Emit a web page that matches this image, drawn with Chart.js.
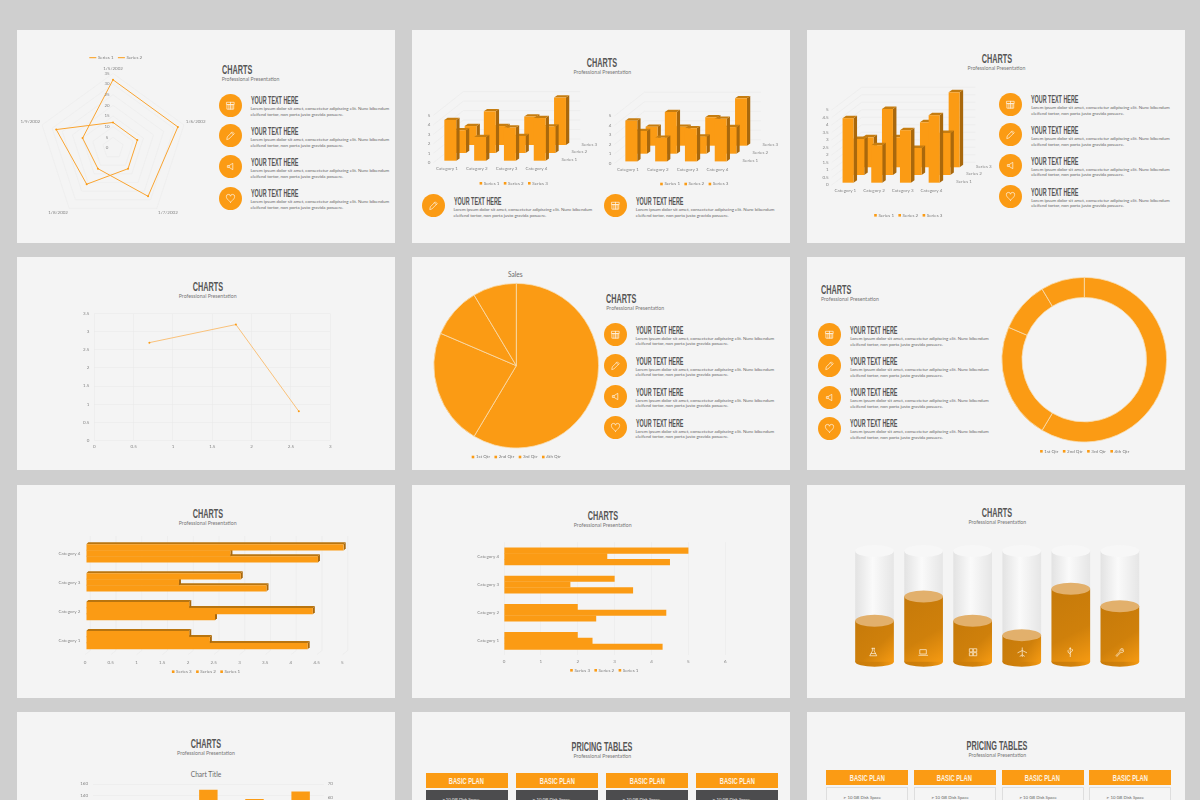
<!DOCTYPE html>
<html>
<head>
    <title>Charts</title>
    <style>
        html, body {
            margin: 0;
            padding: 0;
            width: 1200px;
            height: 800px;
            overflow: hidden;
            background-color: #cfcfcf;
            font-family: Lato, sans-serif;
        }

        .slide {
            position: absolute;
            width: 377.5px;
            height: 212.5px;
            background-color: #f4f4f4;
        }

        .slide canvas {
            position: absolute;
            left: 0;
            top: 0;
        }

        .t {
            position: absolute;
            white-space: nowrap;
            transform: translateY(-50%);
        }

        .t.mid {
            transform: translate(-50%, -50%);
        }

        .head {
            font-family: "Liberation Sans Narrow", sans-serif;
            font-weight: bold;
            color: #565656;
            transform-origin: left center;
        }

        .title { font-size: 13px; transform: translateY(-50%) scaleX(0.56); }
        .title.mid { transform: translate(-50%, -50%) scaleX(0.56); transform-origin: center; }
        .item-head { font-size: 10.2px; transform: translateY(-50%) scaleX(0.53); }
        .sub { font-size: 5.2px; color: #777777; }
        .body { font-size: 4.45px; color: #666666; }
        .plain { font-size: 6.6px; color: #6b6b6b; }

        .dot {
            position: absolute;
            width: 23px;
            height: 23px;
            border-radius: 50%;
            background-color: #fb9b14;
        }

        .icon {
            position: absolute;
            fill: none;
            stroke: #fdf3e2;
            stroke-width: 1.6;
            stroke-linejoin: round;
            stroke-linecap: round;
        }

        .plan-top {
            position: absolute;
            height: 15px;
            background-color: #fb9b14;
            color: #fdf4e4;
            font-family: "Liberation Sans Narrow", sans-serif;
            font-weight: bold;
            font-size: 9.6px;
            line-height: 15px;
            text-align: center;
        }

        .plan-top span { display: inline-block; transform: scaleX(0.6); }

        .plan-dark, .plan-light {
            position: absolute;
            height: 40px;
            font-size: 4.3px;
        }

        .plan-dark { background-color: #4c4c4e; color: #e8e8e8; }
        .plan-light { background-color: #f5f5f5; border: 1px solid #dedede; box-sizing: border-box; color: #666666; }
        .plan-dark span, .plan-light span { position: absolute; white-space: nowrap; }
    </style>
</head>
<body>
    <script src="https://cdn.jsdelivr.net/npm/chart.js"></script>
    <script>
        // chart values
        var categories = ['Category 1', 'Category 2', 'Category 3', 'Category 4'];
        var categoriesDown = ['Category 4', 'Category 3', 'Category 2', 'Category 1'];
        var series1 = [4.3, 2.5, 3.5, 4.5];
        var series2 = [2.4, 4.4, 1.8, 2.8];
        var series3 = [2, 2, 3, 5];
        var series1Down = [4.5, 3.5, 2.5, 4.3];
        var series2Down = [2.8, 1.8, 4.4, 2.4];
        var series3Down = [5, 3, 2, 2];
        var radarDates = ['1/5/2002', '1/6/2002', '1/7/2002', '1/8/2002', '1/9/2002'];
        var radarSeries1 = [32, 32, 28, 12, 15];
        var radarSeries2 = [12, 12, 12, 21, 28];
        var scatterX = [0.7, 1.8, 2.6];
        var scatterY = [2.7, 3.2, 0.8];
        var quarters = ['1st Qtr', '2nd Qtr', '3rd Qtr', '4th Qtr'];
        var sales = [8.2, 3.2, 1.4, 1.2];
        var tubeNames = ['Flask', 'Laptop', 'Grid', 'Plane', 'USB', 'Wrench'];
        var tubeLevels = [37, 59, 37, 24, 66, 50];
        var comboNames = ['A', 'B', 'C', 'D', 'E'];
        var comboBars = [null, null, 150, 134, 147];

        var ORANGE = '#fb9b14';
        var AXIS_GREY = '#868686';
        var GRID_GREY = '#ebebeb';
        var W = 377, H = 213;

        Chart.defaults.font.family = 'Lato, sans-serif';
        Chart.defaults.font.size = 4.5;
        Chart.defaults.color = AXIS_GREY;
        Chart.defaults.animation = false;
        Chart.defaults.responsive = false;
        Chart.defaults.plugins.legend.display = false;
        Chart.defaults.plugins.tooltip.enabled = false;

        var iconPaths = {
            gift: 'M5 10h14v10H5z M4 5h16v5H4z M12 5v15 M8.5 10v10 M15.5 10v10',
            pencil: 'M4 20l1-5L16 4l4 4L9 19z M14 6l4 4',
            speaker: 'M6 10h3l8-5v14l-8-5H6z M9 10v4',
            heart: 'M12 20C5 14 3 11 3 8a4.5 4.5 0 0 1 9-1 4.5 4.5 0 0 1 9 1c0 3-2 6-9 12z',
            flask: 'M9 3h6 M10 3v6L4 20h16L14 9V3 M7 15h10',
            laptop: 'M5 6h14v10H5z M2 19h20',
            grid: 'M4 4h7v7H4z M13 4h7v7h-7z M4 13h7v7H4z M13 13h7v7h-7z',
            plane: 'M12 2v20 M2 13l10-5 10 5 M7 21l5-3 5 3',
            usb: 'M12 2v20 M12 16l-5-4V8 M12 13l5-4V6 M10 5l2-3 2 3',
            wrench: 'M5 19l9-9a4.5 4.5 0 0 1 6-6l-3 3 2 2 3-3a4.5 4.5 0 0 1-6 6l-9 9z'
        };

        function addSlide(x, y) {
            var s = document.createElement('div');
            s.className = 'slide';
            s.style.left = x + 'px';
            s.style.top = y + 'px';
            document.body.appendChild(s);
            return s;
        }

        function addText(slide, str, x, y, cls) {
            var d = document.createElement('div');
            d.className = 't ' + cls;
            d.textContent = str;
            d.style.left = x + 'px';
            d.style.top = y + 'px';
            slide.appendChild(d);
            return d;
        }

        function addHeader(slide, name, x, y, centred) {
            var m = centred ? ' mid' : '';
            addText(slide, name, x, y, 'head title' + m);
            addText(slide, 'Professional Presentation', x, y + 10, 'sub' + m);
        }

        function addIcon(slide, name, cx, cy, size) {
            var svg = document.createElementNS('http://www.w3.org/2000/svg', 'svg');
            svg.setAttribute('class', 'icon');
            svg.setAttribute('viewBox', '0 0 24 24');
            svg.setAttribute('width', size);
            svg.setAttribute('height', size);
            svg.style.left = (cx - size / 2) + 'px';
            svg.style.top = (cy - size / 2) + 'px';
            var p = document.createElementNS('http://www.w3.org/2000/svg', 'path');
            p.setAttribute('d', iconPaths[name]);
            svg.appendChild(p);
            slide.appendChild(svg);
        }

        // round badge with a heading and two lines of copy next to it
        function addItem(slide, icon, cx, cy) {
            var dot = document.createElement('div');
            dot.className = 'dot';
            dot.style.left = (cx - 11.5) + 'px';
            dot.style.top = (cy - 11.5) + 'px';
            slide.appendChild(dot);
            addIcon(slide, icon, cx, cy, 11);
            addText(slide, 'YOUR TEXT HERE', cx + 20.5, cy - 4.6, 'head item-head');
            addText(slide, 'Lorem ipsum dolor sit amet, consectetur adipiscing elit. Nunc bibendum', cx + 20.5, cy + 3.4, 'body');
            addText(slide, 'eleifend tortor, non porta justo gravida posuere.', cx + 20.5, cy + 9, 'body');
        }

        function addList(slide, cx, ys) {
            ['gift', 'pencil', 'speaker', 'heart'].forEach(function (icon, i) {
                addItem(slide, icon, cx, ys[i]);
            });
        }

        // row of small colour keys
        function keyRow(names, cx, y, asLine) {
            return {
                id: 'keyRow',
                afterDraw: function (chart) {
                    var c = chart.ctx;
                    var mark = asLine ? 7 : 2.6;
                    c.save();
                    c.font = '4.5px Lato, sans-serif';
                    c.textBaseline = 'middle';
                    c.textAlign = 'left';
                    var total = 0;
                    names.forEach(function (n) { total += mark + 1.6 + c.measureText(n).width + 4.4; });
                    var x = cx - (total - 4.4) / 2;
                    names.forEach(function (n) {
                        c.fillStyle = ORANGE;
                        if (asLine) {
                            c.fillRect(x, y - 0.5, mark, 1);
                        } else {
                            c.fillRect(x, y - mark / 2, mark, mark);
                        }
                        c.fillStyle = '#7a7a7a';
                        c.fillText(n, x + mark + 1.6, y);
                        x += mark + 1.6 + c.measureText(n).width + 4.4;
                    });
                    c.restore();
                }
            };
        }

        // depth faces and back wall for the stepped columns
        function extrude(cfg) {
            return {
                id: 'extrude',
                beforeDatasetsDraw: function (chart) {
                    var c = chart.ctx, ys = chart.scales.y, area = chart.chartArea;
                    c.save();
                    c.strokeStyle = GRID_GREY;
                    c.lineWidth = 0.7;
                    ys.ticks.forEach(function (t) {
                        var py = ys.getPixelForValue(t.value);
                        c.beginPath();
                        c.moveTo(area.left - 2, py);
                        c.lineTo(area.left - 2 + cfg.wall[0], py + cfg.wall[1]);
                        c.lineTo(cfg.wallRight, py + cfg.wall[1]);
                        c.stroke();
                    });
                    c.restore();
                },
                beforeDatasetDraw: function (chart, args) {
                    var c = chart.ctx, row = cfg.rows[args.index];
                    c.save();
                    c.translate(row[0], row[1]);
                    args.meta.data.forEach(function (bar) {
                        var l = bar.x - bar.width / 2, r = bar.x + bar.width / 2;
                        c.fillStyle = '#a9680c';
                        c.beginPath();
                        c.moveTo(r, bar.y);
                        c.lineTo(r + cfg.side, bar.y - cfg.top);
                        c.lineTo(r + cfg.side, bar.base - cfg.top);
                        c.lineTo(r, bar.base);
                        c.fill();
                        c.fillStyle = '#c67d10';
                        c.beginPath();
                        c.moveTo(l, bar.y);
                        c.lineTo(l + cfg.side, bar.y - cfg.top);
                        c.lineTo(r + cfg.side, bar.y - cfg.top);
                        c.lineTo(r, bar.y);
                        c.fill();
                    });
                },
                afterDatasetDraw: function (chart) {
                    chart.ctx.restore();
                },
                afterDraw: function (chart) {
                    var c = chart.ctx, area = chart.chartArea;
                    c.save();
                    c.font = '4.5px Lato, sans-serif';
                    c.fillStyle = AXIS_GREY;
                    c.textBaseline = 'middle';
                    chart.data.datasets.forEach(function (d, i) {
                        c.fillText(d.label, area.right + cfg.labelAt[i][0], area.bottom + cfg.labelAt[i][1]);
                    });
                    c.restore();
                }
            };
        }

        // same idea lying on its side, one dark stripe along the top and right of each bar
        function extrudeSideways(cfg) {
            return {
                id: 'extrudeSideways',
                beforeDatasetsDraw: function (chart) {
                    var c = chart.ctx, xs = chart.scales.x, area = chart.chartArea;
                    c.save();
                    c.strokeStyle = GRID_GREY;
                    c.lineWidth = 0.7;
                    xs.ticks.forEach(function (t) {
                        var px = xs.getPixelForValue(t.value);
                        c.beginPath();
                        c.moveTo(px + 4, area.top - 3);
                        c.lineTo(px + 4, area.bottom - 4);
                        c.lineTo(px - 1, area.bottom);
                        c.stroke();
                    });
                    c.restore();
                },
                beforeDatasetDraw: function (chart, args) {
                    var c = chart.ctx;
                    args.meta.data.forEach(function (bar) {
                        var t = bar.y - bar.height / 2, b = bar.y + bar.height / 2;
                        c.fillStyle = '#a9680c';
                        c.beginPath();
                        c.moveTo(bar.x, t);
                        c.lineTo(bar.x + cfg.depth, t - cfg.depth);
                        c.lineTo(bar.x + cfg.depth, b - cfg.depth);
                        c.lineTo(bar.x, b);
                        c.fill();
                        c.fillStyle = '#b9750f';
                        c.beginPath();
                        c.moveTo(bar.base, t);
                        c.lineTo(bar.base + cfg.depth, t - cfg.depth);
                        c.lineTo(bar.x + cfg.depth, t - cfg.depth);
                        c.lineTo(bar.x, t);
                        c.fill();
                    });
                }
            };
        }

        // elliptical caps that turn the bars into tubes
        var tubeCaps = {
            id: 'tubeCaps',
            beforeDatasetDraw: function (chart, args) {
                if (args.index !== 0) return;
                var c = chart.ctx;
                args.meta.data.forEach(function (bar) {
                    var g = c.createLinearGradient(bar.x - bar.width / 2, 0, bar.x + bar.width / 2, 0);
                    g.addColorStop(0, '#c97b0a');
                    g.addColorStop(0.6, '#d2820b');
                    g.addColorStop(1, '#f59a12');
                    c.fillStyle = g;
                    c.beginPath();
                    c.ellipse(bar.x, bar.base, bar.width / 2, 5, 0, 0, Math.PI * 2);
                    c.fill();
                });
            },
            afterDatasetDraw: function (chart, args) {
                var c = chart.ctx;
                args.meta.data.forEach(function (bar) {
                    c.fillStyle = args.index === 0 ? '#e2b06c' : '#f7f7f7';
                    c.beginPath();
                    c.ellipse(bar.x, bar.y, bar.width / 2, 6, 0, 0, Math.PI * 2);
                    c.fill();
                });
            }
        };

        // radial scale labels sit a little left of the centre line
        var radarTickLabels = {
            id: 'radarTickLabels',
            afterDraw: function (chart) {
                var c = chart.ctx, r = chart.scales.r;
                c.save();
                c.font = '4.4px Lato, sans-serif';
                c.fillStyle = AXIS_GREY;
                c.textAlign = 'center';
                c.textBaseline = 'middle';
                r.ticks.forEach(function (t) {
                    c.fillText(String(t.value), r.xCenter - 6, r.yCenter - r.getDistanceFromCenterForValue(t.value));
                });
                c.restore();
            }
        };

        function addChart(slide, config) {
            var canvas = document.createElement('canvas');
            canvas.width = W;
            canvas.height = H;
            slide.appendChild(canvas);
            return new Chart(canvas.getContext('2d'), config);
        }

        function fixedWidth(px) {
            return function (scale) { scale.width = px; };
        }

        function fixedHeight(px) {
            return function (scale) { scale.height = px; };
        }

        function flatTicks(extra) {
            return Object.assign({ autoSkip: false, maxRotation: 0, minRotation: 0 }, extra);
        }

        // linear axes print 0.5 steps as 0, 0.5, 1 rather than 0.0, 0.5, 1.0
        function plainNumber(value) {
            return String(value);
        }

        // stepped columns in three rows
        function steppedColumns(slide, box, step, depth, legendX, legendY) {
            var names = ['Series 1', 'Series 2', 'Series 3'];
            return addChart(slide, {
                type: 'bar',
                data: {
                    labels: categories,
                    datasets: [series1, series2, series3].map(function (values, i) {
                        return { label: names[i], data: values, backgroundColor: ORANGE, grouped: false, clip: false };
                    })
                },
                options: {
                    layout: { padding: { left: 0, top: box[1], right: W - box[2], bottom: 0 } },
                    categoryPercentage: 1,
                    barPercentage: depth.bar,
                    scales: {
                        x: {
                            afterFit: fixedHeight(H - box[3]),
                            grid: { display: false, drawTicks: false },
                            border: { display: false },
                            ticks: flatTicks({ padding: depth.labelGap, labelOffset: depth.labelShift })
                        },
                        y: {
                            min: 0, max: 5,
                            afterFit: fixedWidth(box[0]),
                            grid: { display: false, drawTicks: false },
                            border: { display: false },
                            ticks: flatTicks({ stepSize: step, padding: depth.yGap, callback: plainNumber })
                        }
                    }
                },
                plugins: [extrude(depth), keyRow(names, legendX, legendY)]
            });
        }

        // sideways bars, shared by the stripe and flat versions
        function sidewaysBars(slide, box, maxX, share, plugins, gridOn, yGap, xGap, shift) {
            return addChart(slide, {
                type: 'bar',
                data: {
                    labels: categoriesDown,
                    datasets: [
                        { label: 'Series 3', data: series3Down, backgroundColor: ORANGE },
                        { label: 'Series 2', data: series2Down, backgroundColor: ORANGE },
                        { label: 'Series 1', data: series1Down, backgroundColor: ORANGE }
                    ]
                },
                options: {
                    indexAxis: 'y',
                    layout: { padding: { left: 0, top: box[1], right: W - box[2], bottom: 0 } },
                    categoryPercentage: share,
                    barPercentage: 1.06,
                    scales: {
                        x: {
                            min: 0, max: maxX,
                            afterFit: fixedHeight(H - box[3]),
                            grid: { display: gridOn, color: GRID_GREY, lineWidth: 0.7, drawTicks: false },
                            border: { display: false },
                            ticks: flatTicks({ stepSize: maxX === 5 ? 0.5 : 1, padding: xGap, labelOffset: shift, callback: plainNumber })
                        },
                        y: {
                            afterFit: fixedWidth(box[0]),
                            grid: { display: false, drawTicks: false },
                            border: { display: false },
                            ticks: flatTicks({ padding: yGap })
                        }
                    }
                },
                plugins: plugins
            });
        }

        // first row
        var s1 = addSlide(17, 30);
        addHeader(s1, 'CHARTS', 204.7, 38.7);
        addList(s1, 213, [75, 105.7, 136.7, 168]);
        addChart(s1, {
            type: 'radar',
            data: {
                labels: radarDates,
                datasets: [
                    { label: 'Series 1', data: radarSeries1, borderColor: '#f9a431', backgroundColor: 'transparent', borderWidth: 1, pointRadius: 1, pointBackgroundColor: ORANGE, pointBorderWidth: 0 },
                    { label: 'Series 2', data: radarSeries2, borderColor: '#f9a431', backgroundColor: 'transparent', borderWidth: 1, pointRadius: 1, pointBackgroundColor: ORANGE, pointBorderWidth: 0 }
                ]
            },
            options: {
                layout: { padding: { left: 0, top: 33, right: W - 194, bottom: H - 197 } },
                scales: {
                    r: {
                        min: 0, max: 35,
                        grid: { color: '#ececec', lineWidth: 0.7 },
                        angleLines: { display: false },
                        ticks: { stepSize: 5, display: false },
                        pointLabels: { font: { size: 4.5 }, color: AXIS_GREY, padding: 2 }
                    }
                }
            },
            plugins: [radarTickLabels, keyRow(['Series 1', 'Series 2'], 98.7, 27.7, true)]
        });

        var s2 = addSlide(412, 30);
        addHeader(s2, 'CHARTS', 190.3, 32, true);
        addItem(s2, 'pencil', 21, 175.7);
        addItem(s2, 'gift', 203.3, 175.7);
        var doubleDepth = {
            bar: 0.4, side: 3.3, top: 2.3,
            rows: [[0, -2], [9.7, -9.7], [20.3, -17.7]],
            wall: [30, -23.7], wallRight: 168.3,
            labelAt: [[7, -3], [17, -10.7], [27, -18.4]],
            labelGap: 3.6, labelShift: -3.3, yGap: 5
        };
        steppedColumns(s2, [23.4, 85.3, 142.6, 132.7], 1, doubleDepth, 101.7, 153.3);
        steppedColumns(s2, [204.4, 86, 323.6, 133.4], 1, Object.assign({}, doubleDepth, { wallRight: 349 }), 282.3, 154);

        var s3 = addSlide(807, 30);
        addHeader(s3, 'CHARTS', 189.5, 27.7, true);
        addList(s3, 203.7, [74, 104.7, 135.3, 166.3]);
        steppedColumns(s3, [26.7, 80, 141.5, 155], 0.5, {
            bar: 0.383, side: 3.5, top: 2.5,
            rows: [[0, -2.3], [10.7, -10], [20, -17.7]],
            wall: [30, -22.7], wallRight: 168.3,
            labelAt: [[7.8, -3.3], [17.8, -11], [27.5, -18.7]],
            labelGap: 3, labelShift: -2.7, yGap: 5
        }, 101.3, 185.3);

        // second row
        var s4 = addSlide(17, 257);
        addHeader(s4, 'CHARTS', 190.7, 28.7, true);
        addChart(s4, {
            type: 'scatter',
            data: {
                datasets: [{
                    label: 'Values',
                    data: scatterX.map(function (x, i) { return { x: x, y: scatterY[i] }; }),
                    showLine: true,
                    borderColor: '#f9c17a',
                    borderWidth: 1,
                    pointRadius: 1,
                    pointBackgroundColor: ORANGE,
                    pointBorderWidth: 0
                }]
            },
            options: {
                layout: { padding: { left: 0, top: 56.7, right: W - 313.3, bottom: 0 } },
                scales: {
                    x: {
                        min: 0, max: 3,
                        afterFit: fixedHeight(H - 183.3),
                        grid: { color: GRID_GREY, lineWidth: 0.7, drawTicks: false },
                        border: { display: false },
                        ticks: flatTicks({ stepSize: 0.5, padding: 3.4, callback: plainNumber })
                    },
                    y: {
                        min: 0, max: 3.5,
                        afterFit: fixedWidth(77.3),
                        grid: { color: GRID_GREY, lineWidth: 0.7, drawTicks: false },
                        border: { display: false },
                        ticks: flatTicks({ stepSize: 0.5, padding: 5, callback: plainNumber })
                    }
                }
            }
        });

        var s5 = addSlide(412, 257);
        addHeader(s5, 'CHARTS', 194.3, 40.7);
        addList(s5, 203, [77.3, 108.3, 139.3, 170.3]);
        addText(s5, 'Sales', 103.3, 16.7, 'plain mid');
        addChart(s5, {
            type: 'pie',
            data: {
                labels: quarters,
                datasets: [{ data: sales, backgroundColor: ORANGE, borderColor: '#f8dcae', borderWidth: 0.8 }]
            },
            options: {
                layout: { padding: { left: 21.6, top: 26, right: W - 187, bottom: H - 191.4 } }
            },
            plugins: [keyRow(quarters, 104.3, 200)]
        });

        var s6 = addSlide(807, 257);
        addHeader(s6, 'CHARTS', 14, 31.7);
        addList(s6, 22.7, [77.7, 108.7, 140, 171]);
        addChart(s6, {
            type: 'doughnut',
            data: {
                labels: quarters,
                datasets: [{ data: sales, backgroundColor: ORANGE, borderColor: '#f8dcae', borderWidth: 0.8 }]
            },
            options: {
                cutout: '75.6%',
                layout: { padding: { left: 194.6, top: 20, right: W - 360, bottom: H - 185.4 } }
            },
            plugins: [keyRow(quarters, 277.7, 194.3)]
        });

        // third row
        var s7 = addSlide(17, 485);
        addHeader(s7, 'CHARTS', 190.7, 28.3, true);
        sidewaysBars(s7, [69.3, 54, 326.7, 169.5], 5, 0.623,
            [extrudeSideways({ depth: 2 }), keyRow(['Series 3', 'Series 2', 'Series 1'], 189, 186.7)],
            false, 6, 5, -1.3);

        var s8 = addSlide(412, 485);
        addHeader(s8, 'CHARTS', 190.7, 30.3, true);
        sidewaysBars(s8, [92, 57.3, 313.3, 170], 6, 0.615,
            [keyRow(['Series 3', 'Series 2', 'Series 1'], 192.3, 185.3)],
            true, 5, 4, 0);

        var s9 = addSlide(807, 485);
        addHeader(s9, 'CHARTS', 190.3, 27, true);
        addChart(s9, {
            type: 'bar',
            data: {
                labels: tubeNames,
                datasets: [
                    {
                        label: 'Level',
                        data: tubeLevels,
                        grouped: false,
                        clip: false,
                        backgroundColor: function (ctx) {
                            var chart = ctx.chart;
                            if (ctx.dataIndex === undefined || !chart.chartArea) return ORANGE;
                            var cx = chart.scales.x.getPixelForValue(ctx.dataIndex);
                            var top = chart.scales.y.getPixelForValue(tubeLevels[ctx.dataIndex]);
                            var g = chart.ctx.createLinearGradient(cx - 19, top, cx + 19, chart.chartArea.bottom);
                            g.addColorStop(0, '#c67a0a');
                            g.addColorStop(0.6, '#cf800b');
                            g.addColorStop(1, '#f59a12');
                            return g;
                        }
                    },
                    {
                        label: 'Capacity',
                        data: tubeLevels.map(function () { return 100; }),
                        grouped: false,
                        clip: false,
                        backgroundColor: function (ctx) {
                            if (ctx.dataIndex === undefined || !ctx.chart.chartArea) return '#eeeeee';
                            var cx = ctx.chart.scales.x.getPixelForValue(ctx.dataIndex);
                            var g = ctx.chart.ctx.createLinearGradient(cx - 19, 0, cx + 19, 0);
                            g.addColorStop(0, '#e3e3e3');
                            g.addColorStop(0.45, '#fafafa');
                            g.addColorStop(1, '#e6e6e6');
                            return g;
                        }
                    }
                ]
            },
            options: {
                layout: { padding: { left: 43, top: 66, right: W - 337.4, bottom: H - 176.7 } },
                categoryPercentage: 1,
                barPercentage: 0.788,
                scales: {
                    x: { display: false },
                    y: { display: false, min: 0, max: 100 }
                }
            },
            plugins: [tubeCaps]
        });
        ['flask', 'laptop', 'grid', 'plane', 'usb', 'wrench'].forEach(function (name, i) {
            addIcon(s9, name, [66.7, 116.7, 166.7, 215, 263.3, 312][i], 167.7, 10.5);
        });

        // last row runs off the bottom of the sheet
        var s10 = addSlide(17, 712);
        addHeader(s10, 'CHARTS', 189, 31.3, true);
        addText(s10, 'Chart Title', 189, 62, 'plain mid');
        addChart(s10, {
            type: 'bar',
            data: {
                labels: comboNames,
                datasets: [{ label: 'Bars', data: comboBars, backgroundColor: ORANGE, yAxisID: 'y' }]
            },
            options: {
                layout: { padding: { left: 0, top: 72, right: 0, bottom: H - 165 } },
                categoryPercentage: 1,
                barPercentage: 0.4,
                scales: {
                    x: { display: false },
                    y: {
                        min: 0, max: 160,
                        afterFit: fixedWidth(76),
                        grid: { color: GRID_GREY, lineWidth: 0.7, drawTicks: false },
                        border: { display: false },
                        ticks: flatTicks({ stepSize: 20, padding: 5 })
                    },
                    y1: {
                        position: 'right',
                        min: 0, max: 70,
                        afterFit: fixedWidth(W - 306.7),
                        grid: { display: false, drawTicks: false },
                        border: { display: false },
                        ticks: flatTicks({ stepSize: 10, padding: 4 })
                    }
                }
            }
        });

        function addPricing(slide, lefts, width, topY, boxY, boxClass, textX, textY) {
            lefts.forEach(function (x) {
                var top = document.createElement('div');
                top.className = 'plan-top';
                top.style.left = x + 'px';
                top.style.top = topY + 'px';
                top.style.width = width + 'px';
                top.innerHTML = '<span>BASIC PLAN</span>';
                slide.appendChild(top);
                var box = document.createElement('div');
                box.className = boxClass;
                box.style.left = x + 'px';
                box.style.top = boxY + 'px';
                box.style.width = width + 'px';
                var line = document.createElement('span');
                line.textContent = '\u27A2 10 GB Disk Space';
                line.style.left = textX + 'px';
                line.style.top = textY + 'px';
                box.appendChild(line);
                slide.appendChild(box);
            });
        }

        var s11 = addSlide(412, 712);
        addHeader(s11, 'PRICING TABLES', 190.3, 34, true);
        addPricing(s11, [13.7, 104.3, 194.3, 284.3], 82, 61.3, 78, 'plan-dark', 16, 6.5);

        var s12 = addSlide(807, 712);
        addHeader(s12, 'PRICING TABLES', 190.3, 32.7, true);
        addPricing(s12, [19.3, 107, 195, 282.3], 81.5, 58.3, 75, 'plan-light', 16, 7);
    </script>
</body>
</html>
